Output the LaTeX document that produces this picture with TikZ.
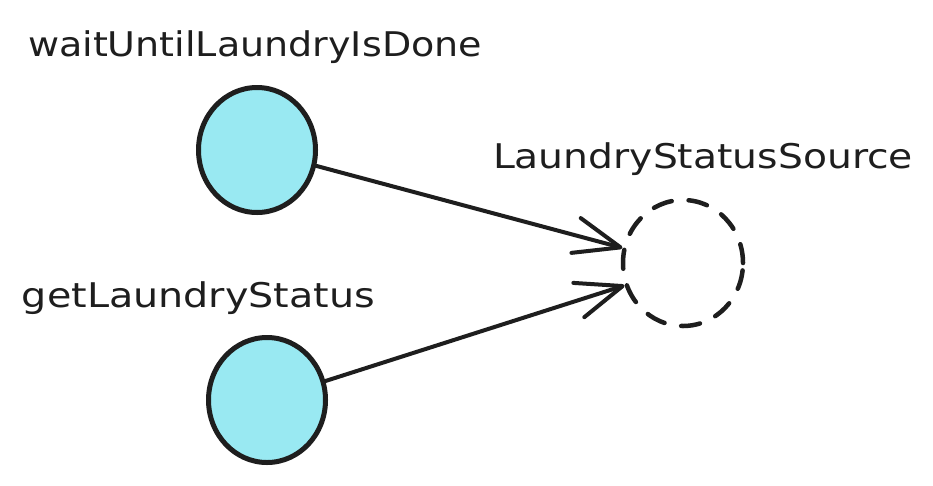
\documentclass[tikz,border=0pt]{standalone}
\usepackage{fontspec}
\usepackage{graphicx}
\setmainfont{DejaVu Sans}
\usetikzlibrary{arrows.meta,shapes.geometric}
\definecolor{ink}{HTML}{1E1E1E}
\definecolor{cyanfill}{HTML}{99E9F2}
\newcommand{\fitw}[2]{\resizebox{#1}{\height}{#2}}
\begin{document}
\begin{tikzpicture}[x=1pt,y=-1pt,
  lbl/.style={anchor=base west, inner sep=0pt, outer sep=0pt, text=ink,
    font=\fontsize{34}{40}\selectfont},
  solidc/.style={ellipse, draw=ink, fill=cyanfill, line width=5pt,
    minimum width=117pt, minimum height=125pt, inner sep=0pt},
  dashc/.style={ellipse, draw=ink, line width=4.5pt, line cap=round,
    dash pattern=on 19pt off 17pt,
    minimum width=120pt, minimum height=126pt, inner sep=0pt},
  conn/.style={draw=ink, line width=4pt, line cap=round, line join=round,
    -{Straight Barb[length=46pt, width=36pt, line cap=round, line join=round]}}
]
\useasboundingbox (0,0) rectangle (933,485);
\fill[white] (0,0) rectangle (933,485);

\node[lbl] (t1) at (28,56) {\fitw{454pt}{waitUntilLaundryIsDone}};
\node[lbl] (t2) at (493,168) {\fitw{420pt}{LaundryStatusSource}};
\node[lbl] (t3) at (22,307) {\fitw{353pt}{getLaundryStatus}};

\node[solidc] (c1) at (257,150) {};
\node[solidc] (c2) at (267,400) {};
\node[dashc] (ds) at (683,263) {};

\draw[conn] (c1.-15.6) -- (ds.166);
\draw[conn] (c2.18) -- (ds.201);
\end{tikzpicture}
\end{document}
